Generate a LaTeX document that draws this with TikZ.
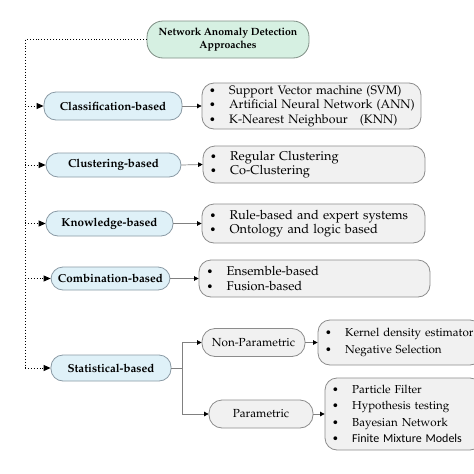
\documentclass[tikz,border=0pt]{standalone}
\usepackage[T1]{fontenc}
\usepackage{fontspec}
\newfontfamily\carl{Carlito}
\usetikzlibrary{arrows.meta}
\newcommand\pal{\fontencoding{T1}\fontfamily{ppl}\selectfont}
\definecolor{topfill}{HTML}{D6F0E2}
\definecolor{topdraw}{HTML}{7F8F85}
\definecolor{catfill}{HTML}{DFF1F8}
\definecolor{catdraw}{HTML}{8A9AA5}
\definecolor{boxfill}{HTML}{F1F1F1}
\definecolor{boxdraw}{HTML}{8C8C8C}
\begin{document}
\begin{tikzpicture}[x=1pt,y=-1pt,
  every node/.style={font=\pal},
  topnode/.style={draw=topdraw, fill=topfill, rounded corners=16pt, line width=0.8pt, align=center,
    font={\pal\bfseries\fontsize{10.5}{13}\selectfont}, inner sep=0pt},
  cat/.style={draw=catdraw, fill=catfill, rounded corners=12pt, line width=0.8pt, inner sep=0pt,
    font={\pal\bfseries\fontsize{11.6}{13}\selectfont}},
  sub/.style={draw=boxdraw, fill=boxfill, rounded corners=13pt, line width=0.8pt, inner sep=0pt,
    font={\pal\fontsize{11.7}{13}\selectfont}},
  lst/.style={draw=boxdraw, fill=boxfill, rounded corners=12pt, line width=0.8pt, inner ysep=0pt,
    inner xsep=4.5pt, align=left, font={\pal\fontsize{12.8}{14.5}\selectfont}},
  trunk/.style={dotted, line width=0.9pt, black},
  tarrow/.style={trunk, -{Triangle[length=7pt,width=6pt]}},
  conn/.style={draw=gray, line width=0.7pt, -{Triangle[length=4.5pt,width=4.5pt,black]}},
  plain/.style={draw=gray, line width=0.7pt}
]
\useasboundingbox (0,0) rectangle (474,474);
\fill[white] (0,0) rectangle (474,474);

\newcommand\bu[1]{\mbox{{\fontsize{11}{11}\selectfont\textbullet}\hspace{13.5pt}#1}}

\node[topnode, minimum width=162pt, minimum height=37pt] (top) at (228,39.5) {Network Anomaly Detection\\Approaches};

\node[cat, minimum width=138pt, minimum height=28pt] (c1) at (113,106) {Classification-based};
\node[cat, minimum width=135pt, minimum height=24pt] (c2) at (113.5,165) {Clustering-based};
\node[cat, minimum width=127pt, minimum height=25pt] (c3) at (109.5,223.5) {Knowledge-based};
\node[cat, minimum width=119pt, minimum height=23pt] (c4) at (110.5,278.5) {Combination-based};
\node[cat, minimum width=120pt, minimum height=26pt] (c5) at (111,368) {Statistical-based};

\node[lst, minimum width=219pt, minimum height=46pt, text width=205pt,
  font={\pal\fontsize{12.3}{14.5}\selectfont}] (b1) at (311.5,106)
  {\bu{Support Vector machine (SVM)}\\\bu{Artificial Neural Network (ANN)}\\\bu{K-Nearest Neighbour\hspace{12pt}(KNN)}};
\node[lst, minimum width=222pt, minimum height=37pt, text width=208pt] (b2) at (314,164.5)
  {\bu{Regular Clustering}\\\bu{Co-Clustering}};
\node[lst, minimum width=223pt, minimum height=39pt, text width=208pt] (b3) at (313.5,223.5)
  {\bu{Rule-based and expert systems}\\\bu{Ontology and logic based}};
\node[lst, minimum width=231pt, minimum height=37pt, text width=216pt] (b4) at (314.5,278.5)
  {\bu{Ensemble-based}\\\bu{Fusion-based}};

\node[sub, minimum width=103pt, minimum height=28pt] (np) at (253.5,342.5) {Non-Parametric};
\node[sub, minimum width=104pt, minimum height=28pt] (pa) at (261,414) {Parametric};

\node[lst, minimum width=164pt, minimum height=45pt, text width=150pt, inner xsep=5pt,
  font={\pal\fontsize{11.6}{17}\selectfont}] (nb) at (400,342.5)
  {\bu{Kernel density estimator}\\\bu{Negative Selection}};
\node[lst, minimum width=157pt, minimum height=72pt, text width=143pt, inner xsep=6pt,
  font={\pal\fontsize{11.6}{16.5}\selectfont}] (pb) at (403.5,414)
  {\bu{Particle Filter}\\\bu{Hypothesis testing}\\\bu{Bayesian Network}\\\bu{\carl\fontsize{12}{16.5}\selectfont Finite Mixture Models}};

% trunk
\coordinate (tk0) at (25,39.5);
\coordinate (tk5) at (25,368);
\draw[trunk] (top.west) -- (tk0) -- (tk5);
\draw[tarrow] (tk5) -- (c5.west);
\draw[tarrow] (25,106) -- (c1.west);
\draw[tarrow] (25,165) -- (c2.west);
\draw[tarrow] (25,223.5) -- (c3.west);
\draw[tarrow] (25,278.5) -- (c4.west);

% connectors
\draw[conn] (c1.east) -- (b1.west);
\draw[conn] (c2.east) -- (b2.west);
\draw[conn] (c3.east) -- (b3.west);
\draw[conn] (c4.east) -- (b4.west);

\coordinate (sj) at (182,368);
\draw[plain] (c5.east) -- (sj);
\draw[conn] (sj) |- (np.west);
\draw[conn] (sj) |- (pa.west);
\draw[conn] (np.east) -- (nb.west);
\draw[conn] (pa.east) -- (pb.west);
\end{tikzpicture}
\end{document}
